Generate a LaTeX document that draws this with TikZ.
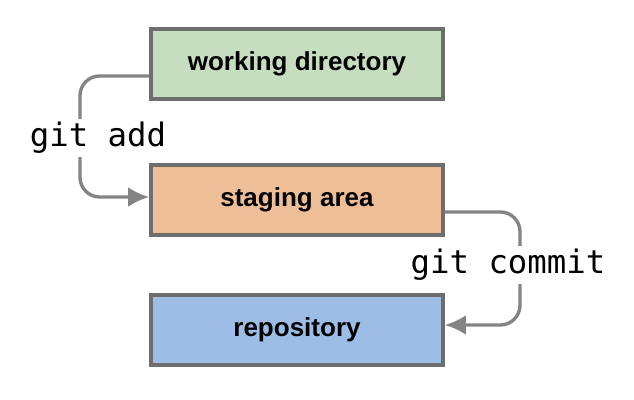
\documentclass[tikz,border=0pt]{standalone}
\usepackage{fontspec}
\setmainfont{Liberation Sans}
\newfontfamily\codefont{DejaVu Sans Mono}
\usetikzlibrary{arrows.meta}
\definecolor{wdgreen}{HTML}{C6DDBF}
\definecolor{saorange}{HTML}{EEBF97}
\definecolor{repoblue}{HTML}{9EBDE6}
\definecolor{edgegray}{HTML}{6E6E6E}
\tikzset{
  stage/.style={draw=edgegray, line width=2.4pt, minimum width=7.3cm, minimum height=1.75cm,
    font=\fontsize{18.5}{22}\selectfont\bfseries},
  move/.style={draw=edgegray!85, line width=2.4pt, -{Latex[length=15pt,width=14pt]}, rounded corners=14pt},
  cmd/.style={fill=white, inner sep=2pt, font=\codefont\fontsize{23}{26}\selectfont}
}
\begin{document}
\begin{tikzpicture}[x=0.025cm, y=-0.025cm]
    \useasboundingbox (0,0) rectangle (634,400);
    % stages
    \node[stage, fill=wdgreen] (wd) at (297,64) {working directory};
    \node[stage, fill=saorange] (sa) at (297,200) {staging area};
    \node[stage, fill=repoblue] (repo) at (297,330) {repository};

    % commands
    \coordinate (addtop) at (80,76);
    \coordinate (addbot) at (80,197);
    \coordinate (comtop) at (520,212);
    \coordinate (combot) at (520,325);
    \draw[move] (wd.west |- addtop) -- (addtop) -- (addbot) -- (sa.west |- addbot);
    \draw[move] (sa.east |- comtop) -- (comtop) -- (combot) -- (repo.east |- combot);
    \node[cmd] (add) at (98,138) {git add};
    \node[cmd] (commit) at (508,265) {git commit};
\end{tikzpicture}
\end{document}
